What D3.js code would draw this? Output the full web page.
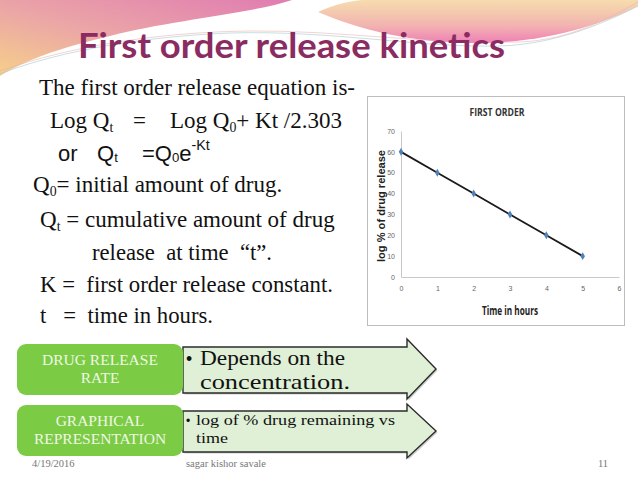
<!DOCTYPE html>
<html><head><meta charset="utf-8">
<script src="https://cdn.jsdelivr.net/npm/d3@7"></script>
<style>
html,body{margin:0;padding:0;background:#fff;}
svg{display:block;}
text{white-space:pre;}
</style></head>
<body><div id="chart"></div>
<script>
// ---- data ----
const timeHours = [0, 1, 2, 3, 4, 5];
const logRelease = [60, 50, 40, 30, 20, 10];
const xTickValues = [0, 1, 2, 3, 4, 5, 6];
const yTickValues = [0, 10, 20, 30, 40, 50, 60, 70];
const chartTitle = "FIRST ORDER";
const xAxisTitle = "Time in hours";
const yAxisTitle = "log % of drug release";

const W = 638, H = 479;
const svg = d3.select("#chart").append("svg").attr("width", W).attr("height", H);
const defs = svg.append("defs");

// ---- decorative background ----
const g1 = defs.append("linearGradient").attr("id","gL").attr("x1","1").attr("y1","0").attr("x2","0").attr("y2","1");
g1.append("stop").attr("offset","0").attr("stop-color","#e07cb2");
g1.append("stop").attr("offset","0.55").attr("stop-color","#eba6a6");
g1.append("stop").attr("offset","1").attr("stop-color","#f6d08a");
const g2 = defs.append("linearGradient").attr("id","gR").attr("x1","0").attr("y1","0").attr("x2","0").attr("y2","1");
g2.append("stop").attr("offset","0").attr("stop-color","#f6dcae");
g2.append("stop").attr("offset","0.6").attr("stop-color","#f2b3b0");
g2.append("stop").attr("offset","1").attr("stop-color","#ef7fb6");

svg.append("path").attr("fill","url(#gL)")
  .attr("d","M0,0 L292,0 C250,14 170,20 110,36 C60,48 25,60 0,76 Z");
svg.append("path").attr("fill","url(#gR)")
  .attr("d","M318,12 C335,4 350,1 362,0 L638,0 L638,6 C600,26 540,44 470,43 C410,42 360,30 318,12 Z");
svg.append("path").attr("fill","none").attr("stroke","#9fc3c9").attr("stroke-width",0.7).attr("opacity",0.8)
  .attr("d","M0,74 C60,50 150,36 230,33 C330,30 420,48 500,46 C560,44 610,20 638,6");
svg.append("path").attr("fill","none").attr("stroke","#e8b0b0").attr("stroke-width",0.7).attr("opacity",0.8)
  .attr("d","M0,71 C70,46 160,32 250,31 C340,30 430,45 520,42 C570,40 610,18 638,2");

// ---- slide title ----
svg.append("text").attr("x",78).attr("y",58)
  .attr("font-family","Lato, 'Open Sans', sans-serif").attr("font-weight","bold")
  .attr("font-size",35).attr("fill","#8a2c62").attr("textLength",427).attr("lengthAdjust","spacingAndGlyphs")
  .text("First order release kinetics");

// ---- left body text ----
const serif = "'Liberation Serif','Times New Roman',serif";
function line(x, y, parts, size, fam) {
  const t = svg.append("text").attr("x",x).attr("y",y).attr("font-family",fam||serif)
    .attr("font-size",size).attr("fill","#111");
  parts.forEach(p => {
    const ts = t.append("tspan").text(p.t);
    if (p.x !== undefined) ts.attr("x", p.x);
    if (p.sub) ts.attr("font-size", size*0.6).attr("dy", p.dy);
    if (p.sup) ts.attr("font-size", size*0.65).attr("dy", p.dy);
    if (p.back) ts.attr("dy", p.back);
  });
  return t;
}
line(39, 95, [{t:"The first order release equation is-"}], 23).attr("textLength",316).attr("lengthAdjust","spacingAndGlyphs");
line(50, 128, [{t:"Log Q"},{t:"t",sub:1,dy:4},{t:"=",x:133,back:-4},{t:"Log Q",x:170},{t:"0",sub:1,dy:4},{t:"+ Kt /2.303",back:-4}], 23);
line(58, 161, [{t:"or"},{t:"Q",x:97},{t:"t",sub:1,dy:1},{t:"=Q",x:142,back:-1},{t:"0",sub:1,dy:1},{t:"e",back:-1},{t:"-Kt",sup:1,dy:-11}], 22, "'Liberation Sans',Arial,sans-serif");
line(33, 192, [{t:"Q"},{t:"0",sub:1,dy:4},{t:"= initial amount of drug.",back:-4}], 23);
line(40, 227, [{t:"Q"},{t:"t",sub:1,dy:4},{t:" = cumulative amount of drug",back:-4}], 23);
line(92, 260, [{t:"release  at time  \u201ct\u201d."}], 23).attr("textLength",180).attr("lengthAdjust","spacingAndGlyphs");
line(40, 292, [{t:"K =  first order release constant."}], 23).attr("textLength",293).attr("lengthAdjust","spacingAndGlyphs");
line(40, 323, [{t:"t   =  time in hours."}], 23).attr("textLength",173).attr("lengthAdjust","spacingAndGlyphs");

// ---- chart ----
svg.append("rect").attr("x",367.5).attr("y",96.5).attr("width",257).attr("height",229)
  .attr("fill","#fff").attr("stroke","#bdbdbd").attr("stroke-width",1);

const x = d3.scaleLinear().domain([0,6]).range([401,619]);
const y = d3.scaleLinear().domain([0,70]).range([277,131]);

const xAxis = svg.append("g").attr("transform",`translate(0,${y(0)})`)
  .call(d3.axisBottom(x).tickValues(xTickValues).tickSize(0).tickPadding(9).tickFormat(d3.format("d")));
const yAxis = svg.append("g").attr("transform",`translate(${x(0)},0)`)
  .call(d3.axisLeft(y).tickValues(yTickValues).tickSize(0).tickPadding(6).tickFormat(d3.format("d")));
[xAxis,yAxis].forEach(a => {
  a.select(".domain").attr("stroke","#c8c8c8");
  a.selectAll("text").attr("font-family","'Liberation Sans',Arial,sans-serif").attr("font-size",7).attr("fill","#666");
});

svg.append("path").datum(timeHours.map((t,i)=>[t,logRelease[i]]))
  .attr("fill","none").attr("stroke","#1a1a1a").attr("stroke-width",1.8)
  .attr("d", d3.line().x(d=>x(d[0])).y(d=>y(d[1])));
svg.selectAll("path.pt").data(timeHours.map((t,i)=>[t,logRelease[i]])).enter().append("path")
  .attr("class","pt").attr("fill","#4f81bd")
  .attr("d", d3.symbol().type(d3.symbolDiamond).size(18))
  .attr("transform", d=>`translate(${x(d[0])},${y(d[1])})`);

svg.append("text").attr("x",497).attr("y",116).attr("text-anchor","middle")
  .attr("font-family","'Liberation Sans Narrow','Open Sans',Arial,sans-serif").attr("font-weight","bold")
  .attr("font-size",10).attr("fill","#333").attr("textLength",55).attr("lengthAdjust","spacingAndGlyphs").text(chartTitle);
svg.append("text").attr("x",510).attr("y",315).attr("text-anchor","middle")
  .attr("font-family","'Liberation Sans Narrow','Open Sans',Arial,sans-serif").attr("font-weight","bold")
  .attr("font-size",12).attr("fill","#222").attr("textLength",56).attr("lengthAdjust","spacingAndGlyphs").text(xAxisTitle);
svg.append("text").attr("transform","translate(385,206) rotate(-90)").attr("text-anchor","middle")
  .attr("font-family","'Liberation Sans',Arial,sans-serif").attr("font-weight","bold")
  .attr("font-size",11).attr("fill","#222").attr("textLength",112).attr("lengthAdjust","spacingAndGlyphs").text(yAxisTitle);

// ---- bottom process boxes ----
const boxes = [
  {label:["DRUG RELEASE","RATE"], y0:344, y1:395, body:[347,393], head:[339,399],
   text:["Depends on the","concentration."], ts:22, tl:[145,150], tb:[365,389]},
  {label:["GRAPHICAL","REPRESENTATION"], y0:405, y1:456, body:[411,452], head:[404,458],
   text:["log of % drug remaining vs","time"], ts:15, tl:[199,32], tb:[425,443]}
];
boxes.forEach(b => {
  const mid = (b.head[0]+b.head[1])/2;
  const ap = `M183,${b.body[0]} L407,${b.body[0]} L407,${b.head[0]} L436,${mid} L407,${b.head[1]} L407,${b.body[1]} L183,${b.body[1]} Z`;
  svg.append("path").attr("d",ap).attr("transform","translate(1.5,1.5)").attr("fill","#999").attr("opacity",0.5);
  svg.append("path").attr("d",ap).attr("fill","#dff0d6").attr("stroke","#2b2b2b").attr("stroke-width",1.4);
  svg.append("rect").attr("x",17).attr("y",b.y0).attr("width",166).attr("height",b.y1-b.y0).attr("rx",9)
    .attr("fill","#7ccb44");
  const lb = [b.y0+21, b.y0+39];
  b.label.forEach((s,i)=>{
    svg.append("text").attr("x",100).attr("y",lb[i]).attr("text-anchor","middle")
      .attr("font-family",serif).attr("font-size",15.5).attr("fill","#eef8e4").text(s);
  });
  svg.append("text").attr("x",186).attr("y",b.tb[0]).attr("font-family","'Liberation Sans',Arial,sans-serif")
    .attr("font-size",b.ts*0.8).attr("fill","#111").text("\u2022");
  b.text.forEach((s,i)=>{
    svg.append("text").attr("x", b.ts>18?200:196).attr("y",b.tb[i])
      .attr("font-family",serif).attr("font-size",b.ts).attr("fill","#111")
      .attr("textLength",b.tl[i]).attr("lengthAdjust","spacingAndGlyphs").text(s);
  });
});

// ---- footer ----
const foot = [[32,"4/19/2016"],[186,"sagar kishor savale"],[598,"11"]];
foot.forEach(f => svg.append("text").attr("x",f[0]).attr("y",467).attr("font-family",serif)
  .attr("font-size",10.5).attr("fill","#777").text(f[1]));
</script></body></html>
